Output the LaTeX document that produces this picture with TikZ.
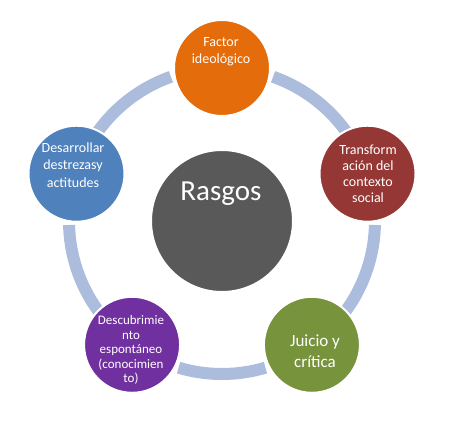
\documentclass[tikz,border=0pt]{standalone}
\usepackage{fontspec}
\setmainfont{Carlito}
\definecolor{ringC}{HTML}{ABBCDC}
\definecolor{orangeC}{HTML}{E46C0A}
\definecolor{redC}{HTML}{953735}
\definecolor{greenC}{HTML}{77933C}
\definecolor{purpleC}{HTML}{7030A0}
\definecolor{blueC}{HTML}{4F81BD}
\definecolor{grayC}{HTML}{595959}
\begin{document}
\begin{tikzpicture}[x=1pt,y=1pt,
  bub/.style={circle, draw=white, line width=2pt, minimum size=96pt, inner sep=0pt},
  lbl/.style={text=white, align=center, inner sep=0pt},
  seg/.style={draw=ringC, line width=12pt}]
\useasboundingbox (0,0) rectangle (453,424);
\coordinate (c) at (222,203);
\foreach \a/\b in {70.5/30, -1.5/-42, -73.5/-106.5, 222/181.5, 150/109.5}
  \draw[seg] (c) ++(\a:153pt) arc[start angle=\a, end angle=\b, radius=153pt];
\path (c) ++(90:153pt) node[bub, fill=orangeC] (o) {};
\path (c) ++(18:153pt) node[bub, fill=redC] (r) {};
\path (c) ++(-54:153pt) node[bub, fill=greenC] (g) {};
\path (c) ++(-126:153pt) node[bub, fill=purpleC] (p) {};
\path (c) ++(162:153pt) node[bub, fill=blueC] (b) {};
\node[circle, draw=white, line width=2pt, fill=grayC, minimum size=142pt, inner sep=0pt] (m) at (c) {};
\node[lbl, font=\fontsize{14}{17}\selectfont] (ot) at (221,372) {Factor\\ideológico};
\node[lbl, font=\fontsize{14}{16}\selectfont] (rt) at (368,250) {Transform\\ación del\\contexto\\social};
\node[lbl, font=\fontsize{17}{20.5}\selectfont] (gt) at (315,73) {Juicio y\\crítica};
\node[lbl, font=\fontsize{13}{14.5}\selectfont] (pt) at (131,74) {Descubrimie\\nto\\espontáneo\\(conocimien\\to)};
\node[lbl, font=\fontsize{14}{17.5}\selectfont] (bt) at (73,259) {Desarrollar\\destrezasy\\actitudes};
\node[text=white, inner sep=0pt, font=\fontsize{29}{35}\selectfont, anchor=base] (mt) at (221,223) {Rasgos};
\end{tikzpicture}
\end{document}
